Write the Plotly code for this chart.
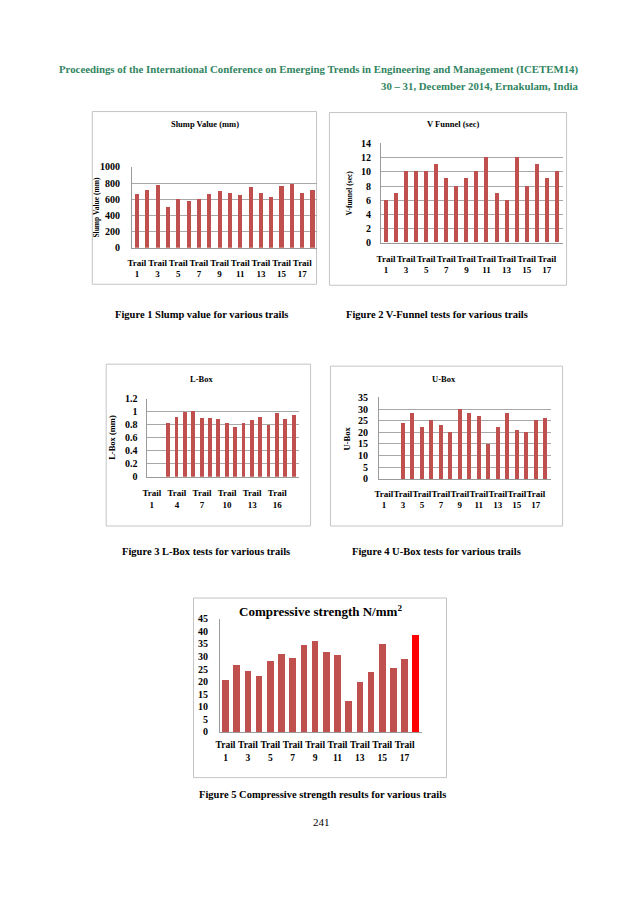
import plotly.graph_objects as go

W, H = 638, 903

# ---------------- data ----------------
trails = list(range(1, 19))
slump_mm = [670, 715, 780, 500, 610, 575, 610, 670, 700, 680, 660, 750, 680, 630, 770, 790, 680, 720]
vfunnel_sec = [6, 7, 10, 10, 10, 11, 9, 8, 9, 10, 12, 7, 6, 12, 8, 11, 9, 10]
lbox_mm = [None, None, 0.83, 0.92, 1.0, 1.01, 0.9, 0.9, 0.89, 0.83, 0.77, 0.83, 0.87, 0.92, 0.8, 0.98, 0.89, 0.95]
ubox = [None, None, 24, 28, 22, 25, 23, 20, 30, 28, 27, 15, 22, 28, 21, 20, 25, 26]
compressive = [20.8, 26.6, 24.2, 22.5, 28.4, 31.0, 29.3, 34.7, 36.3, 31.7, 30.8, 12.4, 20.0, 23.8, 35.2, 25.5, 29.1, 38.6]

ticks_every2 = [1, 3, 5, 7, 9, 11, 13, 15, 17]
ticks_every3 = [1, 4, 7, 10, 13, 16]

header1 = "Proceedings of the International Conference on Emerging Trends in Engineering and Management (ICETEM14)"
header2 = "30 \u2013 31, December 2014, Ernakulam, India"
captions = [
    "Figure 1 Slump value for various trails",
    "Figure 2 V-Funnel tests for various trails",
    "Figure 3 L-Box tests for various trails",
    "Figure 4 U-Box tests for various trails",
    "Figure 5 Compressive strength results for various trails",
]
page_no = "241"

# ---------------- styles ----------------
BAR = "#c0504d"
HIGHLIGHT = "#ff0000"
GRID = "#a8a8a8"
AXIS = "#9a9a9a"
FRAME = "#c4c4c4"
SERIF = "Liberation Serif"
GREEN = "#318561"


def fx(p):
    return p / W


def fy(p):
    return 1 - p / H


charts = [
    dict(vals=slump_mm, ticks=ticks_every2, x0=128, x1=314, c1=133, cw=10.41,
         yb=245, yt=163, ymax=1000, dtick=200, bw=0.4, grid=True,
         frame=(88, 107, 314, 282), title="Slump Value (mm)", tpos=(202, 120), tsize=8.5,
         ytitle="Slump Value (mm)", ytx=92, ytsize=7.5, ystand=9, xstand=6,
         yfs=10, xfs=9),
    dict(vals=vfunnel_sec, ticks=ticks_every2, x0=379, x1=562, c1=384, cw=10.13,
         yb=240, yt=139.3, ymax=14, dtick=2, bw=0.4, grid=True,
         frame=(327, 108, 566, 283), title="V Funnel (sec)", tpos=(452, 120), tsize=8.5,
         ytitle="V-funnel (sec)", ytx=347, ytsize=7.5, ystand=7, xstand=7,
         yfs=10, xfs=9),
    dict(vals=lbox_mm, ticks=ticks_every3, x0=143.5, x1=296, c1=148, cw=8.43,
         yb=477, yt=398, ymax=1.2, dtick=0.2, bw=0.45, grid=True,
         frame=(102, 363, 308, 527), title="L-Box", tpos=(198, 378), tsize=8.5,
         ytitle="L-Box (mm)", ytx=108, ytsize=8.5, ystand=7, xstand=8,
         yfs=10, xfs=9),
    dict(vals=ubox, ticks=ticks_every2, x0=377, x1=550, c1=381.9, cw=9.57,
         yb=479.3, yt=396.7, ymax=35, dtick=5, bw=0.42, grid=True,
         frame=(328, 365, 562, 527), title="U-Box", tpos=(442, 378), tsize=8.5,
         ytitle="U-Box", ytx=345, ytsize=8.5, ystand=8, xstand=6,
         yfs=10, xfs=9),
    dict(vals=compressive, ticks=ticks_every2, x0=216.7, x1=420, c1=222.3, cw=11.28,
         yb=735.7, yt=621, ymax=45, dtick=5, bw=0.6, grid=False,
         frame=(190, 600, 445, 782), title="Compressive strength N/mm<sup>2</sup>",
         tpos=(318, 613), tsize=13, ytitle=None, ystand=9, xstand=4,
         yfs=10, xfs=9.5),
]

fig = go.Figure()
shapes = []
annotations = []

for i, c in enumerate(charts, start=1):
    xa = "x" if i == 1 else f"x{i}"
    ya = "y" if i == 1 else f"y{i}"
    xkey = "xaxis" if i == 1 else f"xaxis{i}"
    ykey = "yaxis" if i == 1 else f"yaxis{i}"

    colors = [BAR] * len(trails)
    if i == 5:
        colors[-1] = HIGHLIGHT

    fig.add_trace(go.Bar(x=trails, y=c["vals"], xaxis=xa, yaxis=ya, width=c["bw"],
                         marker=dict(color=colors, line=dict(width=0)),
                         showlegend=False, hoverinfo="x+y"))

    xr0 = 1 - (c["c1"] - c["x0"]) / c["cw"]
    xr1 = 1 + (c["x1"] - c["c1"]) / c["cw"]

    fig.update_layout(**{
        xkey: dict(domain=[fx(c["x0"]), fx(c["x1"])], range=[xr0, xr1], anchor=ya,
                   tickmode="array", tickvals=c["ticks"],
                   ticktext=[f"Trail<br>{t}" for t in c["ticks"]],
                   tickangle=0, showgrid=False, zeroline=False,
                   showline=True, linecolor=AXIS, linewidth=1, ticks="",
                   ticklabelstandoff=c["xstand"],
                   tickfont=dict(family=SERIF, size=c["xfs"], color="#000000", weight="bold"),
                   fixedrange=True),
        ykey: dict(domain=[fy(c["yb"]), fy(c["yt"])], range=[0, c["ymax"]], anchor=xa,
                   tickmode="linear", tick0=0, dtick=c["dtick"],
                   showgrid=c["grid"], gridcolor=GRID, gridwidth=1, zeroline=False,
                   showline=True, linecolor=AXIS, linewidth=1, ticks="",
                   ticklabelstandoff=c["ystand"],
                   tickfont=dict(family=SERIF, size=c["yfs"], color="#000000", weight="bold"),
                   fixedrange=True),
    })

    l, t, r, b = c["frame"]
    shapes.append(dict(type="rect", xref="paper", yref="paper",
                       x0=fx(l), x1=fx(r), y0=fy(b), y1=fy(t),
                       line=dict(color=FRAME, width=1), fillcolor="rgba(0,0,0,0)", layer="below"))

    annotations.append(dict(text=f"<b>{c['title']}</b>", xref="paper", yref="paper",
                            x=fx(c["tpos"][0]), y=fy(c["tpos"][1]), xanchor="center", yanchor="middle",
                            showarrow=False, font=dict(family=SERIF, size=c["tsize"], color="#000000")))
    if c["ytitle"]:
        annotations.append(dict(text=f"<b>{c['ytitle']}</b>", xref="paper", yref="paper",
                                x=fx(c["ytx"]), y=fy((c["yb"] + c["yt"]) / 2),
                                xanchor="center", yanchor="middle", textangle=-90,
                                showarrow=False, font=dict(family=SERIF, size=c["ytsize"], color="#000000")))

# header
annotations.append(dict(text=f"<b>{header1}</b>", xref="paper", yref="paper", x=fx(580), y=fy(64),
                        xanchor="right", yanchor="middle", showarrow=False,
                        font=dict(family=SERIF, size=10.8, color=GREEN)))
annotations.append(dict(text=f"<b>{header2}</b>", xref="paper", yref="paper", x=fx(580), y=fy(81),
                        xanchor="right", yanchor="middle", showarrow=False,
                        font=dict(family=SERIF, size=10.8, color=GREEN)))

cap_pos = [(198.5, 313), (435, 313), (202.5, 553), (435, 553), (320, 799)]
for text, (cx, cy) in zip(captions, cap_pos):
    annotations.append(dict(text=f"<b>{text}</b>", xref="paper", yref="paper", x=fx(cx), y=fy(cy),
                            xanchor="center", yanchor="middle", showarrow=False,
                            font=dict(family=SERIF, size=10.5, color="#000000")))

annotations.append(dict(text=page_no, xref="paper", yref="paper", x=fx(318.5), y=fy(827),
                        xanchor="center", yanchor="middle", showarrow=False,
                        font=dict(family=SERIF, size=11, color="#000000")))

fig.update_layout(width=W, height=H, autosize=False,
                  margin=dict(l=0, r=0, t=0, b=0, pad=0),
                  paper_bgcolor="#ffffff", plot_bgcolor="rgba(0,0,0,0)",
                  shapes=shapes, annotations=annotations, bargap=0)

fig.write_html("out.html", config={"displayModeBar": False},
               post_script="document.body.style.margin='0';document.body.style.padding='0';")
